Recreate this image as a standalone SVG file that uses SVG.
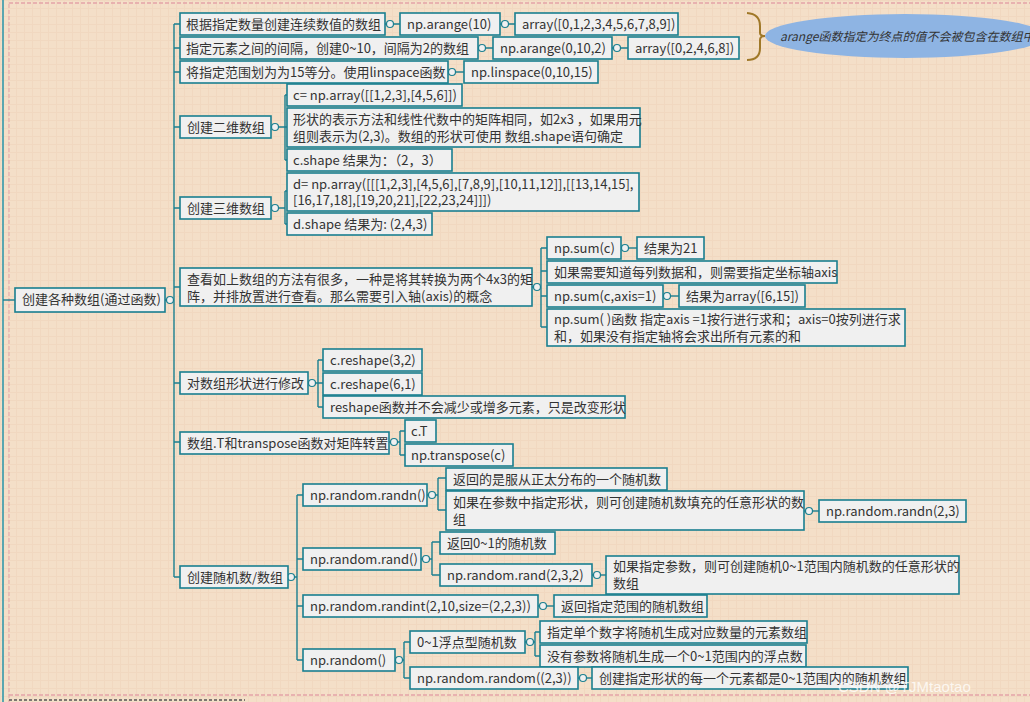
<svg xmlns="http://www.w3.org/2000/svg" width="1030" height="702" viewBox="0 0 1030 702">
<defs>
<pattern id="grid" width="8" height="8" patternUnits="userSpaceOnUse">
<rect width="8" height="8" fill="#f4dfc8"/>
<path d="M0 0.5H8M0.5 0V8" stroke="#f1d8c0" stroke-width="1"/>
</pattern>
</defs>
<style>
.n rect{fill:#f0f0f0;stroke:#1a7f90;stroke-width:1.6}
.n text{font-family:"Noto Sans CJK SC","Liberation Sans",sans-serif;font-size:13px;fill:#333}
.c path{fill:none;stroke:#1a7f90;stroke-width:1.4}
.c circle{fill:#f0f0f0;stroke:#1a7f90;stroke-width:1.2}
</style>
<rect width="1030" height="702" fill="url(#grid)"/>
<line x1="3" y1="0" x2="3" y2="702" stroke="#5aa6b0" stroke-width="2"/>
<line x1="9" y1="4" x2="9" y2="702" stroke="#e3a4a8" stroke-width="1" stroke-dasharray="4 2"/>
<line x1="9" y1="3" x2="1030" y2="3" stroke="#e3a4a8" stroke-width="1.5" stroke-dasharray="4 2"/>
<line x1="9" y1="695" x2="1030" y2="695" stroke="#e3a4a8" stroke-width="1.5" stroke-dasharray="4 2"/>
<line x1="9" y1="700" x2="245" y2="700" stroke="#555" stroke-width="1.5" stroke-dasharray="3 2"/>

<g class="c" id="connectors">
<path d="M3 300H15"/>
<path d="M165 300H174M174 24V577M174 24H180M174 48H180M174 72H180M174 127H180M174 208H180M174 287H180M174 383H180M174 442H180M174 577H180"/>
<circle cx="170" cy="300" r="3.5"/>
<path d="M385 24H400M500 24H515"/><circle cx="390" cy="24" r="3.5"/><circle cx="505" cy="24" r="3.5"/>
<path d="M478 48H493M612 48H628"/><circle cx="482" cy="48" r="3.5"/><circle cx="617" cy="48" r="3.5"/>
<path d="M448 72H464"/><circle cx="452" cy="72" r="3.5"/>
<path d="M271 127H285M285 95V160M285 95H287M285 127H287M285 160H287"/><circle cx="275" cy="127" r="3.5"/>
<path d="M271 208H285M285 191V224M285 191H287M285 224H287"/><circle cx="275" cy="208" r="3.5"/>
<path d="M532 287H541M541 248V327M541 248H547M541 271H547M541 296H547M541 327H547"/><circle cx="537" cy="287" r="3.5"/>
<path d="M621 248H637"/><circle cx="625" cy="248" r="3.5"/>
<path d="M663 296H679"/><circle cx="667" cy="296" r="3.5"/>
<path d="M308 383H318M318 360V407M318 360H323M318 383H323M318 407H323"/><circle cx="312" cy="383" r="3.5"/>
<path d="M389 442H400M400 431V455M400 431H405M400 455H405"/><circle cx="394" cy="442" r="3.5"/>
<path d="M288 577H297M297 495V660M297 495H303M297 559H303M297 606H303M297 660H303"/><circle cx="291" cy="577" r="3.5"/>
<path d="M427 495H438M438 478V510M438 478H446M438 510H446"/><circle cx="432" cy="495" r="3.5"/>
<path d="M804 511H819"/><circle cx="809" cy="511" r="3.5"/>
<path d="M421 559H432M432 542V575M432 542H440M432 575H440"/><circle cx="426" cy="559" r="3.5"/>
<path d="M592 575H606"/><circle cx="597" cy="575" r="3.5"/>
<path d="M538 606H554"/><circle cx="543" cy="606" r="3.5"/>
<path d="M395 660H404M404 642V678M404 642H410M404 678H410"/><circle cx="399" cy="660" r="3.5"/>
<path d="M525 642H535M535 632V656M535 632H540M535 656H540"/><circle cx="530" cy="642" r="3.5"/>
<path d="M578 678H592"/><circle cx="583" cy="678" r="3.5"/>
</g>

<g id="note">
<path d="M747 13Q760 14 760 26V33Q760 36 765 36Q760 36 760 40V48Q760 60 747 60" fill="none" stroke="#a07828" stroke-width="2"/>
<ellipse cx="905" cy="36" rx="140" ry="22" fill="#8eb4e3"/>
<text x="780" y="41" font-family="'Noto Sans CJK SC','Liberation Sans',sans-serif" font-size="12" font-style="italic" fill="#333">arange函数指定为终点的值不会被包含在数组中</text>
</g>

<g class="n" id="root"><rect x="15" y="288" width="150" height="24"/><text x="22" y="304">创建各种数组(通过函数)</text></g>
<g class="n" id="n1"><rect x="180" y="13" width="205" height="22"/><text x="186" y="29">根据指定数量创建连续数值的数组</text></g>
<g class="n" id="n1a"><rect x="400" y="13" width="100" height="22"/><text x="407" y="29">np.arange(10)</text></g>
<g class="n" id="n1b"><rect x="515" y="13" width="163" height="22"/><text x="522" y="29">array([0,1,2,3,4,5,6,7,8,9])</text></g>
<g class="n" id="n2"><rect x="180" y="37" width="298" height="22"/><text x="186" y="53">指定元素之间的间隔，创建0~10，间隔为2的数组</text></g>
<g class="n" id="n2a"><rect x="493" y="37" width="119" height="22"/><text x="500" y="53">np.arange(0,10,2)</text></g>
<g class="n" id="n2b"><rect x="628" y="37" width="111" height="22"/><text x="635" y="53">array([0,2,4,6,8])</text></g>
<g class="n" id="n3"><rect x="180" y="61" width="268" height="22"/><text x="186" y="77">将指定范围划为为15等分。使用linspace函数</text></g>
<g class="n" id="n3a"><rect x="464" y="61" width="134" height="22"/><text x="471" y="77">np.linspace(0,10,15)</text></g>
<g class="n" id="n4"><rect x="180" y="116" width="91" height="22"/><text x="187" y="132">创建二维数组</text></g>
<g class="n" id="n4a"><rect x="287" y="84" width="175" height="22"/><text x="293" y="100">c= np.array([[1,2,3],[4,5,6]])</text></g>
<g class="n" id="n4b"><rect x="287" y="108" width="353" height="39"/><text x="293" y="124">形状的表示方法和线性代数中的矩阵相同，如2x3 ，如果用元</text><text x="293" y="141">组则表示为(2,3)。数组的形状可使用  数组.shape语句确定</text></g>
<g class="n" id="n4c"><rect x="287" y="149" width="165" height="22"/><text x="293" y="165">c.shape 结果为：（2，3）</text></g>
<g class="n" id="n5"><rect x="180" y="197" width="91" height="22"/><text x="187" y="213">创建三维数组</text></g>
<g class="n" id="n5a"><rect x="287" y="173" width="352" height="38"/><text x="293" y="189">d= np.array([[[1,2,3],[4,5,6],[7,8,9],[10,11,12]],[[13,14,15],</text><text x="293" y="205">[16,17,18],[19,20,21],[22,23,24]]])</text></g>
<g class="n" id="n5b"><rect x="287" y="213" width="145" height="22"/><text x="293" y="229">d.shape 结果为: (2,4,3)</text></g>
<g class="n" id="n6"><rect x="180" y="268" width="352" height="38"/><text x="187" y="284">查看如上数组的方法有很多，一种是将其转换为两个4x3的矩</text><text x="187" y="301">阵，并排放置进行查看。那么需要引入轴(axis)的概念</text></g>
<g class="n" id="n6a"><rect x="547" y="237" width="74" height="22"/><text x="554" y="253">np.sum(c)</text></g>
<g class="n" id="n6a1"><rect x="637" y="237" width="67" height="22"/><text x="644" y="253">结果为21</text></g>
<g class="n" id="n6b"><rect x="547" y="261" width="290" height="22"/><text x="554" y="277">如果需要知道每列数据和，则需要指定坐标轴axis</text></g>
<g class="n" id="n6c"><rect x="547" y="285" width="116" height="22"/><text x="554" y="301">np.sum(c,axis=1)</text></g>
<g class="n" id="n6c1"><rect x="679" y="285" width="126" height="22"/><text x="686" y="301">结果为array([6,15])</text></g>
<g class="n" id="n6d"><rect x="547" y="309" width="358" height="37"/><text x="554" y="324">np.sum( )函数 指定axis =1按行进行求和；axis=0按列进行求</text><text x="554" y="341">和，如果没有指定轴将会求出所有元素的和</text></g>
<g class="n" id="n7"><rect x="180" y="372" width="128" height="22"/><text x="187" y="388">对数组形状进行修改</text></g>
<g class="n" id="n7a"><rect x="323" y="349" width="99" height="22"/><text x="330" y="365">c.reshape(3,2)</text></g>
<g class="n" id="n7b"><rect x="323" y="373" width="99" height="22"/><text x="330" y="389">c.reshape(6,1)</text></g>
<g class="n" id="n7c"><rect x="323" y="396" width="302" height="22"/><text x="330" y="412">reshape函数并不会减少或增多元素，只是改变形状</text></g>
<g class="n" id="n8"><rect x="180" y="432" width="209" height="22"/><text x="187" y="448">数组.T和transpose函数对矩阵转置</text></g>
<g class="n" id="n8a"><rect x="405" y="420" width="31" height="22"/><text x="411" y="436">c.T</text></g>
<g class="n" id="n8b"><rect x="405" y="444" width="108" height="22"/><text x="411" y="460">np.transpose(c)</text></g>
<g class="n" id="n9"><rect x="180" y="566" width="108" height="22"/><text x="187" y="582">创建随机数/数组</text></g>
<g class="n" id="n9a"><rect x="303" y="484" width="124" height="22"/><text x="310" y="500">np.random.randn()</text></g>
<g class="n" id="n9a1"><rect x="446" y="468" width="221" height="22"/><text x="453" y="484">返回的是服从正太分布的一个随机数</text></g>
<g class="n" id="n9a2"><rect x="446" y="491" width="358" height="39"/><text x="453" y="507">如果在参数中指定形状，则可创建随机数填充的任意形状的数</text><text x="453" y="524">组</text></g>
<g class="n" id="n9a3"><rect x="819" y="500" width="147" height="22"/><text x="826" y="516">np.random.randn(2,3)</text></g>
<g class="n" id="n9b"><rect x="303" y="548" width="118" height="22"/><text x="310" y="564">np.random.rand()</text></g>
<g class="n" id="n9b1"><rect x="440" y="532" width="115" height="22"/><text x="447" y="548">返回0~1的随机数</text></g>
<g class="n" id="n9b2"><rect x="440" y="564" width="152" height="22"/><text x="447" y="580">np.random.rand(2,3,2)</text></g>
<g class="n" id="n9b3"><rect x="606" y="556" width="353" height="38"/><text x="613" y="571">如果指定参数，则可创建随机0~1范围内随机数的任意形状的</text><text x="613" y="588">数组</text></g>
<g class="n" id="n9c"><rect x="303" y="595" width="235" height="22"/><text x="310" y="611">np.random.randint(2,10,size=(2,2,3))</text></g>
<g class="n" id="n9c1"><rect x="554" y="595" width="153" height="22"/><text x="561" y="611">返回指定范围的随机数组</text></g>
<g class="n" id="n9d"><rect x="303" y="649" width="92" height="22"/><text x="310" y="665">np.random()</text></g>
<g class="n" id="n9d1"><rect x="410" y="631" width="115" height="22"/><text x="417" y="647">0~1浮点型随机数</text></g>
<g class="n" id="n9d1a"><rect x="540" y="621" width="267" height="22"/><text x="547" y="637">指定单个数字将随机生成对应数量的元素数组</text></g>
<g class="n" id="n9d1b"><rect x="540" y="645" width="266" height="22"/><text x="547" y="661">没有参数将随机生成一个0~1范围内的浮点数</text></g>
<g class="n" id="n9d2"><rect x="410" y="667" width="168" height="22"/><text x="417" y="683">np.random.random((2,3))</text></g>
<g class="n" id="n9d2a"><rect x="592" y="667" width="316" height="22"/><text x="599" y="683">创建指定形状的每一个元素都是0~1范围内的随机数组</text></g>
<text x="838" y="692" font-family="'Liberation Sans',sans-serif" font-size="15" fill="#ffffff" fill-opacity="0.75">CSDN @TJMtaotao</text>
</svg>
